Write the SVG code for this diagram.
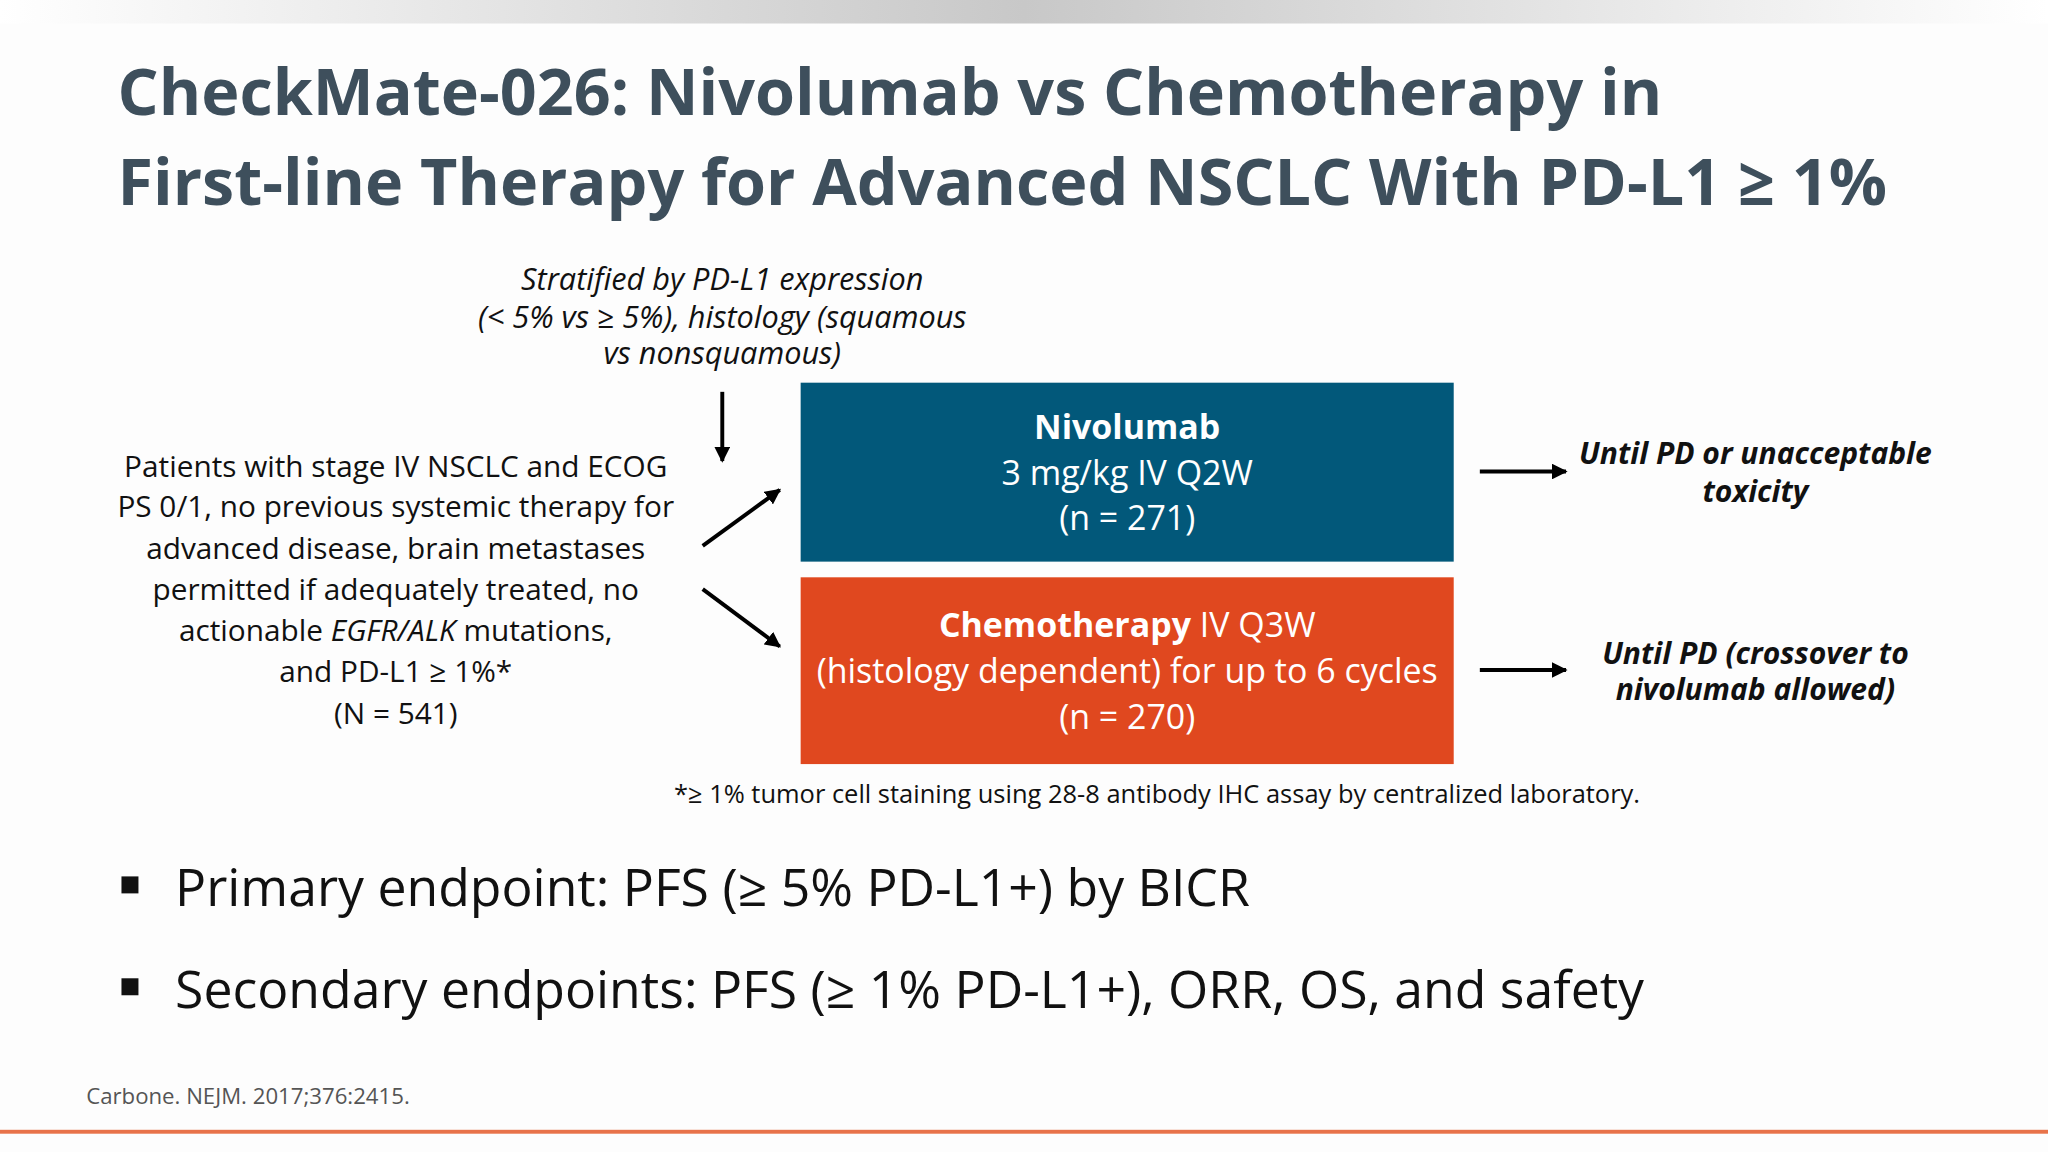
<svg xmlns="http://www.w3.org/2000/svg" width="2048" height="1152" viewBox="0 0 2048 1152">
<defs>
<linearGradient id="tg" x1="0" x2="1" y1="0" y2="0"><stop offset="0" stop-color="#fff"/><stop offset="0.5" stop-color="#c8c8c8"/><stop offset="1" stop-color="#fff"/></linearGradient>
<marker id="ah" viewBox="0 0 10 10" refX="9" refY="5" markerWidth="4" markerHeight="4" orient="auto"><path d="M0,0L10,5L0,10z" fill="#000"/></marker>
<style>
text{font-family:"Open Sans","Liberation Sans",sans-serif}
.t{font-size:49.5px;font-weight:bold;fill:#3e4f5c}
.w{fill:#fff;font-size:26px;text-anchor:middle}
.l{font-size:22.8px;text-anchor:middle;fill:#111}
.i{font-style:italic;font-size:23.5px;text-anchor:middle;fill:#111}
.r{font-style:italic;font-weight:bold;font-size:23px;text-anchor:middle;fill:#111}
.b{font-size:39.6px;fill:#111}
.c line{stroke:#000;stroke-width:3;marker-end:url(#ah)}
</style>
</defs>
<rect width="2048" height="1152" fill="#fdfdfd"/>
<g transform="scale(1.30612)">
<rect x="0" y="0" width="1568" height="18" fill="url(#tg)"/>
<rect x="0" y="865" width="1568" height="3" fill="#e8734a"/>
<text class="t" x="90" y="88">CheckMate-026: Nivolumab vs Chemotherapy in</text>
<text class="t" x="90" y="157">First-line Therapy for Advanced NSCLC With PD-L1 ≥ 1%</text>
<g id="strat"><text class="i" x="553" y="222">Stratified by PD-L1 expression</text><text class="i" x="553" y="251">(&lt; 5% vs ≥ 5%), histology (squamous</text><text class="i" x="553" y="279">vs nonsquamous)</text></g>
<g id="patients"><text class="l" x="303" y="365">Patients with stage IV NSCLC and ECOG</text><text class="l" x="303" y="396">PS 0/1, no previous systemic therapy for</text><text class="l" x="303" y="428">advanced disease, brain metastases</text><text class="l" x="303" y="459">permitted if adequately treated, no</text><text class="l" x="303" y="491">actionable <tspan font-style="italic">EGFR/ALK</tspan> mutations,</text><text class="l" x="303" y="522">and PD-L1 ≥ 1%*</text><text class="l" x="303" y="554">(N = 541)</text></g>
<g id="nivo"><rect x="613" y="293" width="500" height="137" fill="#02587a"/><text class="w" x="863" y="336" font-weight="bold">Nivolumab</text><text class="w" x="863" y="371">3 mg/kg IV Q2W</text><text class="w" x="863" y="406">(n = 271)</text></g>
<g id="chemo"><rect x="613" y="442" width="500" height="143" fill="#e0481f"/><text class="w" x="863" y="488"><tspan font-weight="bold">Chemotherapy</tspan> IV Q3W</text><text class="w" x="863" y="523">(histology dependent) for up to 6 cycles</text><text class="w" x="863" y="558">(n = 270)</text></g>
<g id="out1"><text class="r" x="1344" y="355">Until PD or unacceptable</text><text class="r" x="1344" y="384">toxicity</text></g>
<g id="out2"><text class="r" x="1344" y="508">Until PD (crossover to</text><text class="r" x="1344" y="536">nivolumab allowed)</text></g>
<g class="c" id="connectors">
<line x1="553" y1="300" x2="553" y2="353"/>
<line x1="538" y1="418" x2="597" y2="375"/>
<line x1="538" y1="451" x2="597" y2="495"/>
<line x1="1133" y1="361" x2="1199" y2="361"/>
<line x1="1133" y1="513" x2="1199" y2="513"/>
</g>
<text x="516" y="615" font-size="19.5" fill="#111">*≥ 1% tumor cell staining using 28-8 antibody IHC assay by centralized laboratory.</text>
<rect x="93" y="671" width="13" height="13" fill="#111"/>
<text class="b" x="134" y="694">Primary endpoint: PFS (≥ 5% PD-L1+) by BICR</text>
<rect x="93" y="749" width="13" height="13" fill="#111"/>
<text class="b" x="134" y="772">Secondary endpoints: PFS (≥ 1% PD-L1+), ORR, OS, and safety</text>
<text x="66" y="845" font-size="17" fill="#555">Carbone. NEJM. 2017;376:2415.</text>
</g>
</svg>
